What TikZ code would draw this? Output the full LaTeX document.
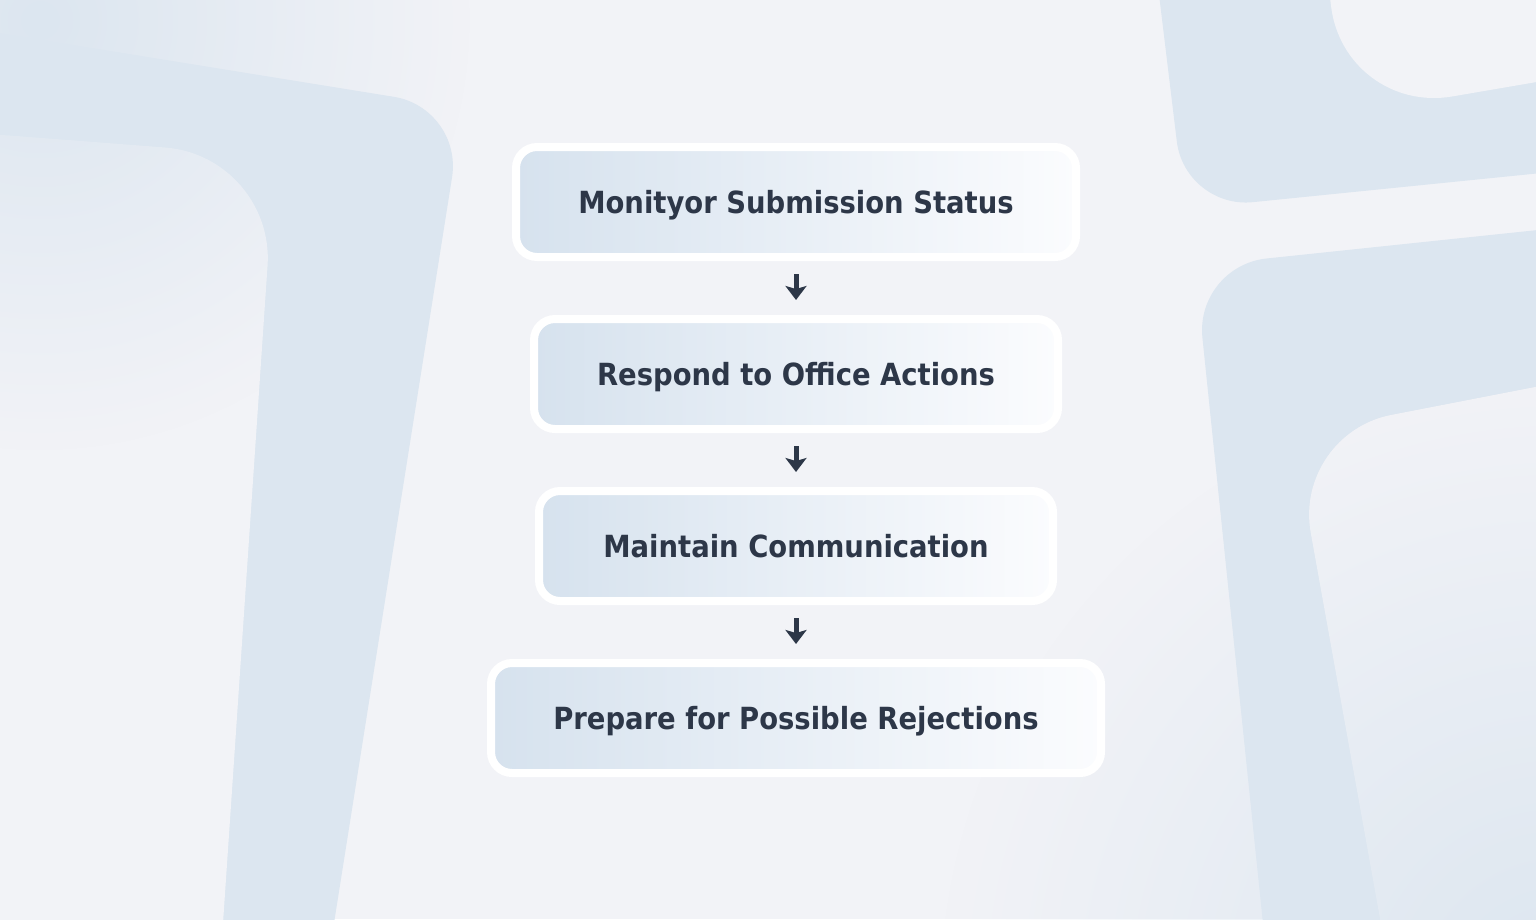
\documentclass[tikz,border=0pt]{standalone}
\usepackage{fontspec}
\newfontfamily\boxfont{DejaVu Sans Condensed Bold}
\usetikzlibrary{arrows.meta,positioning,fadings}
\definecolor{bgc}{HTML}{F2F3F7}
\definecolor{shapec}{HTML}{DCE6F0}
\definecolor{textc}{HTML}{2D3748}
\definecolor{boxl}{HTML}{D6E2EE}
\definecolor{boxr}{HTML}{FBFCFE}
\tikzfading[name=glowout, inner color=transparent!0, outer color=transparent!100]
\begin{document}
\begin{tikzpicture}[x=1pt, y=-1pt, >={Stealth[width=21pt,length=14pt,inset=3pt]},
  stepbox/.style={draw=white, line width=8pt, rounded corners=21pt, left color=boxl, right color=boxr,
    minimum height=110pt, inner xsep=0pt, text depth=0pt, text=textc, font=\boxfont\fontsize{30.5}{36}\selectfont},
  flow/.style={->, line width=5pt, draw=textc, shorten >=15pt, shorten <=13pt},
  node distance=54pt]
  \useasboundingbox (0,0) rectangle (1536,919);
  \fill[bgc] (0,0) rectangle (1536,919);
  \fill[shapec, rounded corners=70pt] (-100,17) -- (463,108) -- (306,1100) -- (-100,1100) -- cycle;
  \fill[bgc, rounded corners=110pt] (-100,127) -- (275,156) -- (211,1100) -- (-100,1100) -- cycle;
  \fill[shapec, path fading=glowout] (40,20) circle (430);
  \fill[shapec, rounded corners=68pt] (1150,-80) -- (1185,209) -- (1700,157) -- (1700,-80) -- cycle;
  \fill[bgc, rounded corners=110pt] (1316,-120) -- (1344,115) -- (1700,54) -- (1700,-120) -- cycle;
  \fill[shapec, rounded corners=72pt] (1700,213) -- (1195,266) -- (1274,1030) -- (1700,1030) -- cycle;
  \fill[bgc, rounded corners=100pt] (1700,355) -- (1293,434) -- (1400,1030) -- (1700,1030) -- cycle;
  \fill[shapec, path fading=glowout] (1560,1000) circle (620);

  \node[stepbox, minimum width=560pt] (monitor) at (796,202) {Monityor Submission Status};
  \node[stepbox, minimum width=524pt, below=of monitor] (respond) {Respond to Office Actions};
  \node[stepbox, minimum width=514pt, below=of respond] (maintain) {Maintain Communication};
  \node[stepbox, minimum width=610pt, below=of maintain] (prepare) {Prepare for Possible Rejections};
  \draw[flow] (monitor) -- (respond);
  \draw[flow] (respond) -- (maintain);
  \draw[flow] (maintain) -- (prepare);
\end{tikzpicture}
\end{document}
